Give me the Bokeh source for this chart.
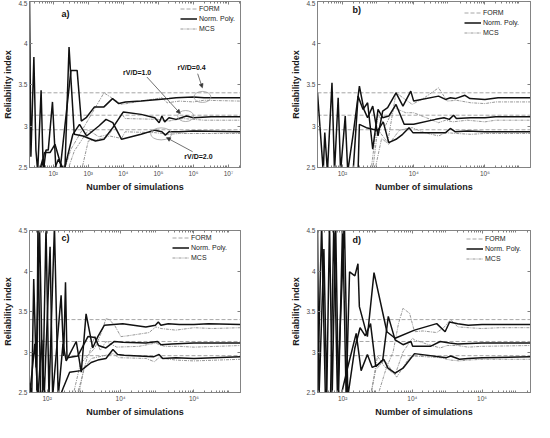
from bokeh.plotting import figure
from bokeh.models import Range1d, FixedTicker, Legend, LegendItem, Label, Arrow, NormalHead, LogAxis, LinearAxis
from bokeh.layouts import column, row
from bokeh.embed import file_html
from bokeh.resources import INLINE

# ---------------- data ----------------
form_beta = [3.40, 3.13, 2.955]          # FORM reliability index per rV/D case
y_ticks = [2.5, 3, 3.5, 4, 4.5]
y_tick_labels = ["2.5", "3", "3.5", "4", "4.5"]
x_ticks_a = [100, 1000, 10000, 100000, 1000000, 10000000]
x_tick_labels_a = ["10²", "10³", "10⁴", "10⁵", "10⁶", "10⁷"]
x_ticks_bcd = [100, 10000, 1000000]
x_tick_labels_bcd = ["10²", "10⁴", "10⁶"]
panel_tags = ["a)", "b)", "c)", "d)"]
legend_labels = ["FORM", "Norm. Poly.", "MCS"]
case_labels = ["rV/D=0.4", "rV/D=1.0", "rV/D=2.0"]

# panel a
a_np1_n = [21, 23, 28, 32, 36, 45, 52, 62, 72, 95, 120, 155, 320, 480, 630, 870, 1500, 2800, 4900, 7400, 11500, 32000, 100000, 200000, 320000, 1000000, 2000000, 22000000]
a_np1_b = [4.60, 2.63, 3.83, 2.71, 2.45, 3.43, 2.45, 2.71, 2.71, 3.29, 2.45, 2.45, 3.67, 3.67, 3.06, 3.10, 3.23, 3.23, 3.33, 3.27, 3.29, 3.30, 3.32, 3.33, 3.34, 3.35, 3.34, 3.34]
a_np2_n = [21, 32, 45, 56, 81, 112, 158, 214, 282, 398, 708, 1600, 2800, 5000, 10000, 32000, 79000, 105000, 126000, 151000, 200000, 320000, 630000, 1000000, 3200000, 22000000]
a_np2_b = [2.45, 2.45, 2.45, 2.68, 2.68, 2.78, 2.56, 2.45, 3.95, 2.90, 2.88, 2.82, 2.84, 2.98, 3.17, 3.14, 3.10, 3.04, 3.12, 3.05, 3.10, 3.08, 3.12, 3.10, 3.11, 3.11]
a_np3_n = [21, 32, 40, 50, 63, 100, 141, 200, 363, 562, 891, 2000, 3200, 5000, 8900, 32000, 79000, 126000, 158000, 200000, 400000, 1000000, 22000000]
a_np3_b = [2.45, 2.45, 2.45, 2.60, 2.45, 2.45, 2.60, 2.45, 2.90, 3.02, 2.88, 3.00, 3.08, 3.04, 2.84, 2.90, 2.95, 2.93, 2.89, 2.93, 2.93, 2.94, 2.93]
a_mc1_n = [200, 320, 2800, 8900, 89000, 126000, 178000, 400000, 1000000, 2000000, 22000000]
a_mc1_b = [2.45, 2.72, 3.40, 3.26, 3.33, 3.34, 3.28, 3.30, 3.29, 3.31, 3.30]
a_mc2_n = [250, 400, 1000, 2000, 4000, 8900, 11200, 100000, 200000, 500000, 2000000, 22000000]
a_mc2_b = [2.45, 2.70, 2.95, 2.87, 2.90, 3.15, 3.09, 3.08, 3.06, 3.09, 3.07, 3.07]
a_mc3_n = [630, 1000, 2000, 4000, 8900, 11200, 79000, 200000, 400000, 22000000]
a_mc3_b = [2.45, 2.82, 2.84, 2.88, 2.85, 2.93, 2.92, 2.90, 2.91, 2.91]

# panel b
b_np1_n = [20, 29, 32, 38, 51, 60, 76, 89, 120, 141, 200, 300, 400, 510, 710, 1000, 1350, 1860, 3200, 5000, 8300, 10000, 50000, 78000, 107000, 148000, 275000, 380000, 1000000, 2340000, 19000000]
b_np1_b = [3.40, 2.45, 2.92, 2.45, 3.52, 2.45, 3.34, 2.45, 3.12, 2.45, 2.90, 3.48, 3.20, 3.10, 3.24, 2.88, 3.18, 3.22, 3.40, 3.24, 3.42, 3.30, 3.36, 3.32, 3.34, 3.33, 3.37, 3.33, 3.32, 3.34, 3.34]
b_np2_n = [20, 200, 275, 380, 510, 710, 1000, 1350, 2000, 3200, 5400, 10000, 41000, 71000, 100000, 132000, 158000, 400000, 1000000, 2000000, 19000000]
b_np2_b = [2.45, 2.45, 3.36, 3.20, 3.28, 2.72, 3.20, 3.10, 3.12, 3.26, 3.02, 3.02, 3.08, 3.10, 3.08, 3.13, 3.09, 3.10, 3.10, 3.11, 3.11]
b_np3_n = [20, 250, 275, 300, 470, 710, 1000, 1400, 2000, 3200, 4900, 7400, 9500, 40000, 79000, 107000, 148000, 320000, 1000000, 19000000]
b_np3_b = [2.45, 2.45, 2.45, 3.02, 2.98, 2.96, 2.95, 3.05, 2.80, 2.84, 2.90, 2.98, 2.92, 2.92, 2.92, 2.97, 2.93, 2.94, 2.93, 2.93]
b_mc1_n = [700, 980, 1860, 3200, 9100, 20000, 50000, 87000, 158000, 400000, 1000000, 2000000, 19000000]
b_mc1_b = [2.45, 2.96, 2.80, 3.40, 3.26, 3.34, 3.46, 3.30, 3.31, 3.28, 3.27, 3.29, 3.29]
b_mc2_n = [630, 1000, 1600, 2800, 6000, 10000, 50000, 79000, 126000, 320000, 1000000, 2000000, 19000000]
b_mc2_b = [2.45, 3.14, 3.00, 3.22, 3.16, 3.16, 3.04, 3.07, 3.05, 3.07, 3.05, 3.07, 3.07]
b_mc3_n = [800, 1260, 2000, 4000, 9100, 20000, 50000, 79000, 158000, 400000, 1000000, 19000000]
b_mc3_b = [2.45, 2.85, 2.78, 2.95, 2.98, 2.92, 2.88, 2.92, 2.91, 2.90, 2.91, 2.91]

# panel c
c_np1_n = [33, 38, 43, 50, 62, 76, 93, 112, 158, 200, 270, 330, 620, 850, 1150, 1740, 2400, 3600, 11500, 49000, 89000, 107000, 126000, 200000, 400000, 1000000, 2500000, 18600000]
c_np1_b = [2.62, 2.45, 3.90, 2.81, 4.55, 2.45, 4.55, 2.45, 4.55, 2.45, 3.10, 2.89, 3.13, 2.75, 3.47, 3.05, 3.19, 3.33, 3.35, 3.31, 3.33, 3.37, 3.33, 3.35, 3.34, 3.34, 3.35, 3.34]
c_np2_n = [33, 40, 46, 56, 71, 83, 120, 141, 240, 282, 316, 347, 680, 1290, 2000, 2500, 4000, 6800, 11500, 49000, 102000, 126000, 250000, 1000000, 18600000]
c_np2_b = [2.45, 2.82, 3.10, 2.45, 3.15, 2.45, 4.30, 2.45, 3.70, 2.95, 3.86, 2.93, 2.95, 3.19, 3.18, 3.08, 3.05, 3.13, 3.12, 3.11, 3.13, 3.09, 3.10, 3.11, 3.11]
c_np3_n = [33, 52, 56, 66, 100, 158, 224, 270, 410, 830, 1580, 2400, 4000, 6200, 8300, 12600, 79000, 112000, 141000, 320000, 1000000, 18600000]
c_np3_b = [2.45, 2.45, 4.55, 2.45, 2.45, 2.45, 2.45, 2.55, 2.75, 2.77, 2.87, 2.90, 2.92, 3.03, 2.97, 2.96, 2.94, 2.97, 2.92, 2.93, 2.92, 2.94]
c_mc1_n = [630, 850, 1260, 2000, 2950, 4000, 5000, 7100, 10200, 15800, 60000, 91000, 126000, 320000, 1000000, 3200000, 18600000]
c_mc1_b = [2.45, 2.65, 2.95, 3.05, 3.23, 3.41, 3.40, 3.32, 3.19, 3.20, 3.24, 3.31, 3.29, 3.27, 3.30, 3.29, 3.30]
c_mc2_n = [500, 800, 1400, 2000, 2800, 4000, 7900, 32000, 89000, 158000, 400000, 1000000, 18600000]
c_mc2_b = [2.45, 2.85, 2.98, 3.20, 3.02, 3.13, 3.06, 3.07, 3.11, 3.07, 3.07, 3.06, 3.08]
c_mc3_n = [710, 1000, 1600, 3200, 6300, 8900, 50000, 83000, 112000, 320000, 1000000, 18600000]
c_mc3_b = [2.45, 2.80, 2.92, 2.95, 2.98, 2.93, 2.92, 2.88, 2.93, 2.90, 2.89, 2.91]

# panel d
d_np1_n = [19, 21, 29, 35, 42, 50, 63, 76, 100, 126, 158, 224, 275, 302, 513, 794, 1860, 3200, 11500, 50000, 87000, 117000, 200000, 400000, 1000000, 3200000, 24500000]
d_np1_b = [4.60, 2.45, 4.27, 2.45, 4.60, 2.45, 4.60, 2.45, 4.60, 2.45, 3.99, 3.94, 4.09, 3.56, 3.19, 3.98, 3.25, 3.17, 3.27, 3.35, 3.25, 3.37, 3.35, 3.33, 3.34, 3.34, 3.34]
d_np2_n = [19, 25, 32, 45, 56, 71, 112, 141, 224, 316, 447, 631, 891, 1410, 2040, 3200, 5400, 9100, 10200, 33000, 63000, 117000, 200000, 1000000, 24500000]
d_np2_b = [2.45, 4.60, 2.45, 2.45, 4.60, 2.45, 4.60, 2.45, 3.05, 3.30, 3.20, 3.35, 2.82, 2.90, 3.44, 3.15, 3.09, 3.13, 3.07, 3.07, 3.13, 3.11, 3.10, 3.11, 3.11]
d_np3_n = [19, 40, 89, 129, 245, 339, 513, 708, 1000, 1510, 2000, 3200, 5400, 11500, 95000, 126000, 224000, 400000, 1000000, 24500000]
d_np3_b = [2.45, 2.45, 2.45, 2.75, 3.23, 2.77, 2.97, 2.81, 2.84, 2.91, 2.80, 2.74, 2.80, 2.98, 2.93, 2.95, 2.91, 2.92, 2.93, 2.94]
d_mc1_n = [1000, 1780, 2800, 4000, 5400, 7100, 8300, 11500, 20000, 50000, 79000, 126000, 200000, 400000, 1000000, 3200000, 24500000]
d_mc1_b = [2.45, 2.80, 3.00, 3.35, 3.54, 3.50, 3.48, 3.25, 3.26, 3.24, 3.30, 3.40, 3.31, 3.30, 3.29, 3.30, 3.30]
d_mc2_n = [630, 1000, 1580, 3200, 5400, 10000, 11500, 25000, 63000, 100000, 200000, 400000, 1000000, 24500000]
d_mc2_b = [2.45, 2.95, 2.82, 2.72, 3.00, 3.17, 3.15, 3.10, 3.05, 3.08, 3.08, 3.06, 3.07, 3.08]
d_mc3_n = [630, 890, 1580, 3550, 7900, 11500, 63000, 126000, 224000, 400000, 1000000, 24500000]
d_mc3_b = [2.45, 2.78, 2.90, 2.69, 2.92, 2.95, 2.93, 2.90, 2.89, 2.90, 2.91, 2.91]

# ---------------- styling ----------------
FONT = "Liberation Sans"
AX = "#7f7f7f"
NP_COLOR = "#111111"
FORM_COLOR = "#a6a6a6"
MCS_COLOR = "#8c8c8c"
MINOR = [k * 10 ** e for e in range(1, 8) for k in range(2, 10)]


def tick_style(ax):
    ax.axis_line_color = AX
    ax.axis_line_width = 0.8
    ax.major_tick_line_color = AX
    ax.minor_tick_line_color = AX
    ax.major_tick_in = 3
    ax.major_tick_out = 0
    ax.minor_tick_in = 2
    ax.minor_tick_out = 0


def make_panel(tag, np_series, mc_series, xt, xl, w, h, bl, br, bt, bb, leg_loc, tag_loc):
    all_n = [v for s in np_series + mc_series for v in s[0]]
    x0, x1 = min(all_n), max(all_n)
    p = figure(width=w, height=h, x_axis_type="log",
               x_range=Range1d(x0, x1), y_range=Range1d(y_ticks[0], y_ticks[-1]),
               output_backend="svg", toolbar_location=None,
               min_border_left=bl, min_border_right=br, min_border_top=bt, min_border_bottom=bb)
    p.xgrid.visible = False
    p.ygrid.visible = False
    p.outline_line_color = AX
    p.outline_line_width = 0.8
    p.background_fill_color = "white"

    xa = p.xaxis[0]
    ya = p.yaxis[0]
    xa.ticker = FixedTicker(ticks=xt, minor_ticks=MINOR)
    xa.major_label_overrides = {t: l for t, l in zip(xt, xl)}
    ya.ticker = FixedTicker(ticks=y_ticks)
    ya.major_label_overrides = {t: l for t, l in zip(y_ticks, y_tick_labels)}
    xa.axis_label = "Number of simulations"
    ya.axis_label = "Reliability index"
    for ax in (xa, ya):
        tick_style(ax)
        ax.major_label_text_font = FONT
        ax.major_label_text_font_size = "6.5px"
        ax.major_label_text_color = "#4a4a4a"
        ax.major_label_standoff = 2
        ax.axis_label_text_font = FONT
        ax.axis_label_text_font_style = "bold"
        ax.axis_label_text_font_size = "9px"
        ax.axis_label_text_color = "#1a1a1a"
        ax.axis_label_standoff = 2
    ya.minor_tick_line_color = None

    # mirrored ticks on the top and right edges (box style); labels invisible
    top = LogAxis(ticker=FixedTicker(ticks=xt, minor_ticks=MINOR),
                  major_label_text_font_size="1px", major_label_text_alpha=0,
                  major_label_standoff=0)
    right = LinearAxis(ticker=FixedTicker(ticks=y_ticks),
                       major_label_text_font_size="1px", major_label_text_alpha=0,
                       major_label_standoff=0)
    for ax in (top, right):
        tick_style(ax)
    right.minor_tick_line_color = None
    p.add_layout(top, "above")
    p.add_layout(right, "right")

    form_r = None
    for f in form_beta:
        form_r = p.line([x0, x1], [f, f], line_color=FORM_COLOR, line_width=1, line_dash="4 2")
    mc_r = None
    for n, b in mc_series:
        mc_r = p.line(n, b, line_color=MCS_COLOR, line_width=0.9, line_dash="3 1 1 1")
    np_r = None
    for n, b in np_series:
        np_r = p.line(n, b, line_color=NP_COLOR, line_width=1.5)

    legend = Legend(items=[LegendItem(label=legend_labels[0], renderers=[form_r]),
                           LegendItem(label=legend_labels[1], renderers=[np_r]),
                           LegendItem(label=legend_labels[2], renderers=[mc_r])],
                    location=leg_loc, orientation="vertical",
                    label_text_font=FONT, label_text_font_size="7px", label_text_color="#222222",
                    glyph_width=17, glyph_height=9, label_height=9, label_standoff=2,
                    spacing=1, padding=0, margin=0,
                    border_line_alpha=0, background_fill_alpha=0)
    p.add_layout(legend)

    p.add_layout(Label(x=tag_loc[0], y=tag_loc[1], x_units="screen", y_units="screen", text=tag,
                       text_font=FONT, text_font_style="bold", text_font_size="9px",
                       text_color="#111111"))
    return p


pa = make_panel(panel_tags[0],
                [(a_np1_n, a_np1_b), (a_np2_n, a_np2_b), (a_np3_n, a_np3_b)],
                [(a_mc1_n, a_mc1_b), (a_mc2_n, a_mc2_b), (a_mc3_n, a_mc3_b)],
                x_ticks_a, x_tick_labels_a, 288, 196, 29, 48, 1, 29, (151, 134), (32, 149))
pb = make_panel(panel_tags[1],
                [(b_np1_n, b_np1_b), (b_np2_n, b_np2_b), (b_np3_n, b_np3_b)],
                [(b_mc1_n, b_mc1_b), (b_mc2_n, b_mc2_b), (b_mc3_n, b_mc3_b)],
                x_ticks_bcd, x_tick_labels_bcd, 244, 196, 29, 2, 1, 29, (147, 130), (35, 153))
pc = make_panel(panel_tags[2],
                [(c_np1_n, c_np1_b), (c_np2_n, c_np2_b), (c_np3_n, c_np3_b)],
                [(c_mc1_n, c_mc1_b), (c_mc2_n, c_mc2_b), (c_mc3_n, c_mc3_b)],
                x_ticks_bcd, x_tick_labels_bcd, 288, 223, 29, 48, 34, 22, (143, 130), (32, 150))
pd_ = make_panel(panel_tags[3],
                 [(d_np1_n, d_np1_b), (d_np2_n, d_np2_b), (d_np3_n, d_np3_b)],
                 [(d_mc1_n, d_mc1_b), (d_mc2_n, d_mc2_b), (d_mc3_n, d_mc3_b)],
                 x_ticks_bcd, x_tick_labels_bcd, 244, 223, 29, 2, 34, 22, (149, 129), (35, 148))

# annotations of panel a (ellipses around converged values, arrows, case labels)
ell_n = [1800000, 600000, 120000]
ell_b = [3.35, 3.12, 2.905]
pa.ellipse(x=ell_n, y=ell_b, width=[17, 16, 21], height=[11, 11, 12],
           width_units="screen", height_units="screen",
           fill_color=None, line_color="#9a9a9a", line_width=0.8)
arrows = [((1320000, 3.63), (1800000, 3.46)),
          ((47000, 3.59), (420000, 3.15)),
          ((950000, 2.69), (170000, 2.86))]
for (xs, ys), (xe, ye) in arrows:
    pa.add_layout(Arrow(end=NormalHead(size=4, fill_color="#333333", line_color="#333333", line_width=0.6),
                        x_start=xs, y_start=ys, x_end=xe, y_end=ye,
                        line_color="#333333", line_width=0.7))
label_pos = [(350000, 3.70), (9800, 3.64), (550000, 2.63)]
for (lx, ly), txt in zip(label_pos, case_labels):
    pa.add_layout(Label(x=lx, y=ly, text=txt, text_font=FONT, text_font_style="bold",
                        text_font_size="7px", text_baseline="middle", text_color="#111111"))

layout = column(row(pa, pb), row(pc, pd_))
open("out.html", "w").write(file_html(layout, INLINE, title="Reliability index"))
